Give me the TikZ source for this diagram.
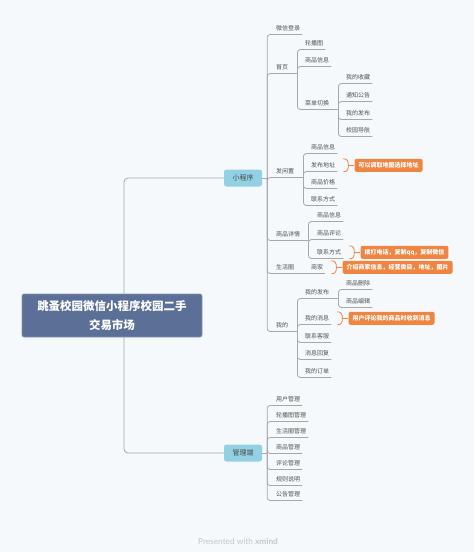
\documentclass[tikz,border=0pt]{standalone}
\usepackage{fontspec}
\setmainfont{Noto Sans CJK SC}
\newfontfamily\creditfont{Lato}
\usetikzlibrary{positioning,calc}

\definecolor{pagebg}{HTML}{F5F9FC}
\definecolor{rootblue}{HTML}{5B6F97}
\definecolor{appblue}{HTML}{92D0E4}
\definecolor{linegray}{HTML}{A8A8A8}
\definecolor{topictext}{HTML}{505050}
\definecolor{noteorange}{HTML}{EF8541}
\definecolor{creditgray}{HTML}{C2C6CB}

\tikzset{
    root/.style={fill=rootblue, draw=rootblue!75!white, line width=0.6pt, rounded corners=2pt,
        text=white, align=center, minimum width=180pt, minimum height=43pt,
        font=\fontsize{11.5}{19}\selectfont\bfseries},
    branch/.style={fill=appblue, rounded corners=2.5pt, text=topictext!90!black,
        minimum width=38pt, minimum height=17pt, inner sep=0pt, font=\fontsize{7}{8}\selectfont},
    topic/.style={anchor=south west, inner xsep=2pt, inner ysep=3pt, text height=5pt, text depth=1pt,
        text=topictext, font=\fontsize{6}{7}\selectfont},
    link/.style={draw=linegray, line width=0.8pt, rounded corners=3pt},
    note/.style={fill=noteorange, rounded corners=2pt, text=white, inner xsep=4pt, inner ysep=0pt,
        minimum height=13pt, text height=5pt, text depth=1pt, font=\fontsize{6}{7}\selectfont\bfseries},
    brace/.style={draw=noteorange, line width=0.8pt},
}

\begin{document}
\begin{tikzpicture}[x=1pt, y=-1pt]
    \fill[pagebg] (0,0) rectangle (474,552);
    \useasboundingbox (0,0) rectangle (474,552);

    % central topic and the two main branches
    \node[root] (root) at (112,315.5) {跳蚤校园微信小程序校园二手\\交易市场};
    \node[branch] (app) at (243,178) {小程序};
    \node[branch] (admin) at (243,453) {管理端};
    \coordinate (rootjoint) at (124,316);
    \draw[link, rounded corners=4pt] (root.north -| rootjoint) |- (app.west);
    \draw[link, rounded corners=4pt] (root.south -| rootjoint) |- (admin.west);

    % 小程序
    \node[topic] (login) at (274,34.5) {微信登录};
    \node[topic] (home) at (274,73.5) {首页};
    \node[topic] (idle) at (274,177.5) {发闲置};
    \node[topic] (detail) at (274,240.5) {商品详情};
    \node[topic] (life) at (274,273.5) {生活圈};
    \node[topic] (mine) at (274,331.5) {我的};
    \draw[link] (app.east) -- ++(5,0) coordinate (appjoint);
    \foreach \c in {login,home,idle,detail,life,mine}
        \draw[link] (appjoint) |- (\c.south west) -- (\c.south east);

    % 首页
    \node[topic] (banner) at (303,49.5) {轮播图};
    \node[topic] (homegoods) at (303,66.5) {商品信息};
    \node[topic] (menu) at (303,109.5) {菜单切换};
    \draw[link] (home.south east) -- ++(7,0) coordinate (homejoint);
    \foreach \c in {banner,homegoods,menu}
        \draw[link] (homejoint) |- (\c.south west) -- (\c.south east);

    \node[topic] (fav) at (344,83.5) {我的收藏};
    \node[topic] (notice) at (344,101.5) {通知公告};
    \node[topic] (menupost) at (344,119.5) {我的发布};
    \node[topic] (campusnav) at (344,136.5) {校园导航};
    \draw[link] (menu.south east) -- ++(7,0) coordinate (menujoint);
    \foreach \c in {fav,notice,menupost,campusnav}
        \draw[link] (menujoint) |- (\c.south west) -- (\c.south east);

    % 发闲置
    \node[topic] (idleinfo) at (309,153.5) {商品信息};
    \node[topic] (idleaddr) at (309,171.5) {发布地址};
    \node[topic] (idleprice) at (309,188.5) {商品价格};
    \node[topic] (idlecontact) at (309,205.5) {联系方式};
    \draw[link] (idle.south east) -- ++(7,0) coordinate (idlejoint);
    \foreach \c in {idleinfo,idleaddr,idleprice,idlecontact}
        \draw[link] (idlejoint) |- (\c.south west) -- (\c.south east);

    % 商品详情
    \node[topic] (detailinfo) at (315,221.5) {商品信息};
    \node[topic] (detailcomment) at (315,239.5) {商品评论};
    \node[topic] (detailcontact) at (315,258.5) {联系方式};
    \draw[link] (detail.south east) -- ++(6,0) coordinate (detailjoint);
    \foreach \c in {detailinfo,detailcomment,detailcontact}
        \draw[link] (detailjoint) |- (\c.south west) -- (\c.south east);

    % 生活圈
    \node[topic] (shop) at (309,273.5) {商家};
    \draw[link] (life.south east) -- (shop.south west) -- (shop.south east);

    % 我的
    \node[topic] (minepost) at (303,298.5) {我的发布};
    \node[topic] (minemsg) at (303,324.5) {我的消息};
    \node[topic] (service) at (303,342.5) {联系客服};
    \node[topic] (reply) at (303,359.5) {消息回复};
    \node[topic] (orders) at (303,377.5) {我的订单};
    \draw[link] (mine.south east) -- ++(7,0) coordinate (minejoint);
    \foreach \c in {minepost,minemsg,service,reply,orders}
        \draw[link] (minejoint) |- (\c.south west) -- (\c.south east);

    \node[topic] (postdel) at (344,289.5) {商品删除};
    \node[topic] (postedit) at (344,307.5) {商品编辑};
    \draw[link] (minepost.south east) -- ++(7,0) coordinate (postjoint);
    \foreach \c in {postdel,postedit}
        \draw[link] (postjoint) |- (\c.south west) -- (\c.south east);

    % notes
    \node[note, right=17pt of idleaddr] (addrnote) {可以调取地图选择地址};
    \node[note, right=17pt of detailcontact] (contactnote) {拨打电话，复制qq，复制微信};
    \node[note, right=17pt of shop] (shopnote) {介绍商家信息，经营类目，地址，图片};
    \node[note, right=17pt of minemsg] (msgnote) {用户评论我的商品时收到消息};
    \foreach \n in {addrnote,contactnote,shopnote,msgnote} {
        \draw[brace] ($(\n.west)+(-11,-6.5)$) .. controls +(4,0) and +(0,-4) .. ($(\n.west)+(-6,0)$)
            .. controls +(0,4) and +(4,0) .. ($(\n.west)+(-11,6.5)$);
        \draw[brace] ($(\n.west)+(-6,0)$) -- (\n.west);
    }

    % 管理端
    \node[topic] (users) at (274,405.5) {用户管理};
    \node[topic] (banneradmin) at (274,421.5) {轮播图管理};
    \node[topic] (lifeadmin) at (274,437.5) {生活圈管理};
    \node[topic] (goodsadmin) at (274,453.5) {商品管理};
    \node[topic] (commentadmin) at (274,469.5) {评论管理};
    \node[topic] (rules) at (274,485.5) {规则说明};
    \node[topic] (announce) at (274,500.5) {公告管理};
    \draw[link] (admin.east) -- ++(5,0) coordinate (adminjoint);
    \foreach \c in {users,banneradmin,lifeadmin,goodsadmin,commentadmin,rules,announce}
        \draw[link] (adminjoint) |- (\c.south west) -- (\c.south east);

    \node[text=creditgray, font=\creditfont\fontsize{8.3}{10}\selectfont] (credit) at (238,541) {Presented with \textbf{xmind}};
\end{tikzpicture}
\end{document}
